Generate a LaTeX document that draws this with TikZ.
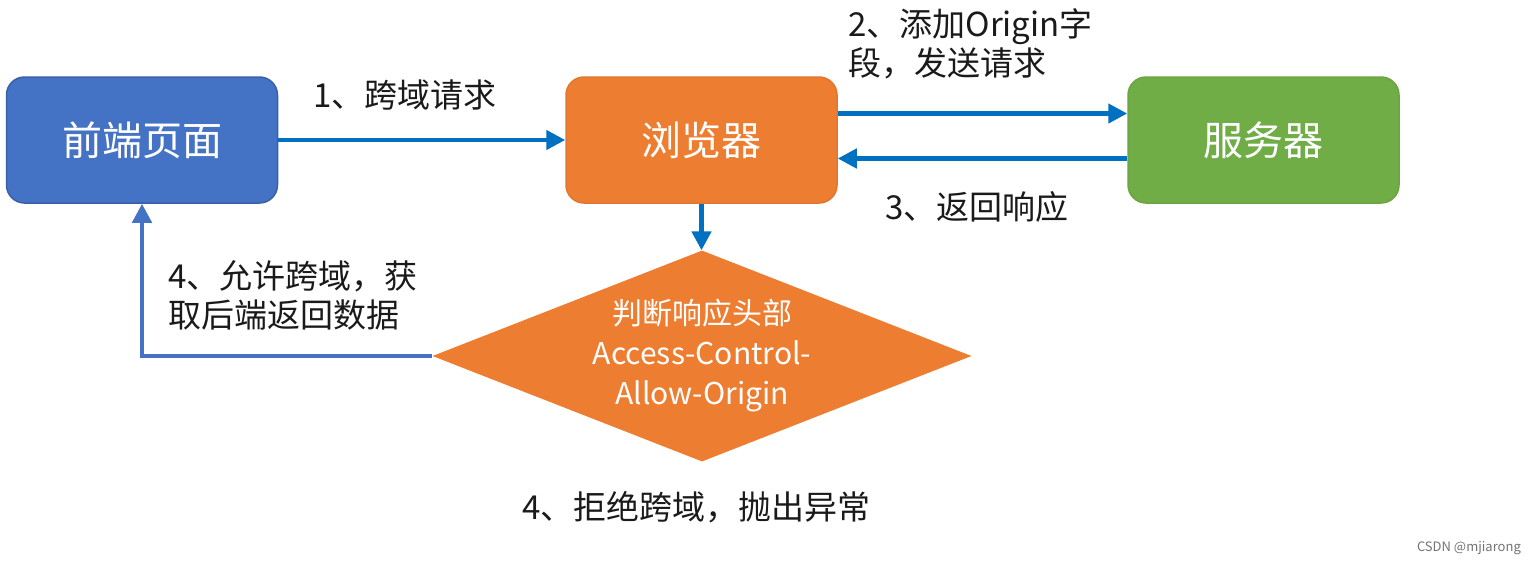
\documentclass[tikz,border=0pt]{standalone}
\usepackage{fontspec}
\setmainfont{Noto Sans CJK SC}
\usetikzlibrary{shapes.geometric,arrows.meta}
\definecolor{boxblue}{HTML}{4472C4}
\definecolor{boxorange}{HTML}{ED7D31}
\definecolor{boxgreen}{HTML}{70AD47}
\definecolor{arrowblue}{HTML}{0070C0}
\definecolor{txtdark}{HTML}{1A1A1A}
\tikzset{
  box/.style={rectangle, rounded corners=18pt, minimum width=271pt, minimum height=126pt,
    line width=1.5pt, text=white, font=\fontsize{40}{46}\selectfont, inner sep=0pt},
  conn/.style={draw=arrowblue, line width=4.5pt, -{Triangle[length=19pt,width=19pt]}},
  conn2/.style={draw=boxblue, line width=4.5pt, -{Triangle[length=19pt,width=19pt]}},
  lbl/.style={text=txtdark, font=\fontsize{33}{39}\selectfont, inner sep=0pt, align=left},
}
\begin{document}
\begin{tikzpicture}[x=1pt,y=-1pt]
\useasboundingbox (0,0) rectangle (1536,565);
% boxes
\node[box, fill=boxblue, draw=boxblue!85!black] (fe) at (142,140) {前端页面};
\node[box, fill=boxorange, draw=boxorange!95!black] (br) at (701.5,140) {浏览器};
\node[box, fill=boxgreen, draw=boxgreen!95!black] (sv) at (1263.5,140) {服务器};
\node[diamond, fill=boxorange, aspect=2.55, minimum width=539pt, minimum height=211pt,
  inner sep=0pt, text=white, align=center, font=\fontsize{30}{40}\selectfont] (dm) at (702,356)
  {判断响应头部\\Access-Control-\\Allow-Origin};
% connectors
\draw[conn] (fe.east) -- (br.west);
\draw[conn] ([yshift=26.5pt]br.east) -- ([yshift=26.5pt]sv.west);
\draw[conn] ([yshift=-18.5pt]sv.west) -- ([yshift=-18.5pt]br.east);
\draw[conn] (br.south) -- (br.south |- dm.north);
\draw[conn2] (dm.west) -| (fe.south);
% labels
\node[lbl, anchor=west] (l1) at (313,95) {1、跨域请求};
\node[lbl, anchor=west] (l2) at (848,44) {2、添加Origin字\\段，发送请求};
\node[lbl, anchor=west] (l3) at (885,207) {3、返回响应};
\node[lbl, anchor=west] (l4a) at (168,295) {4、允许跨域，获\\取后端返回数据};
\node[lbl, anchor=west] (l4b) at (522,507) {4、拒绝跨域，抛出异常};
\node[anchor=east, text=black!55, font=\fontsize{13}{15}\selectfont, inner sep=0pt] (wm) at (1521,548) {CSDN @mjiarong};
\end{tikzpicture}
\end{document}
